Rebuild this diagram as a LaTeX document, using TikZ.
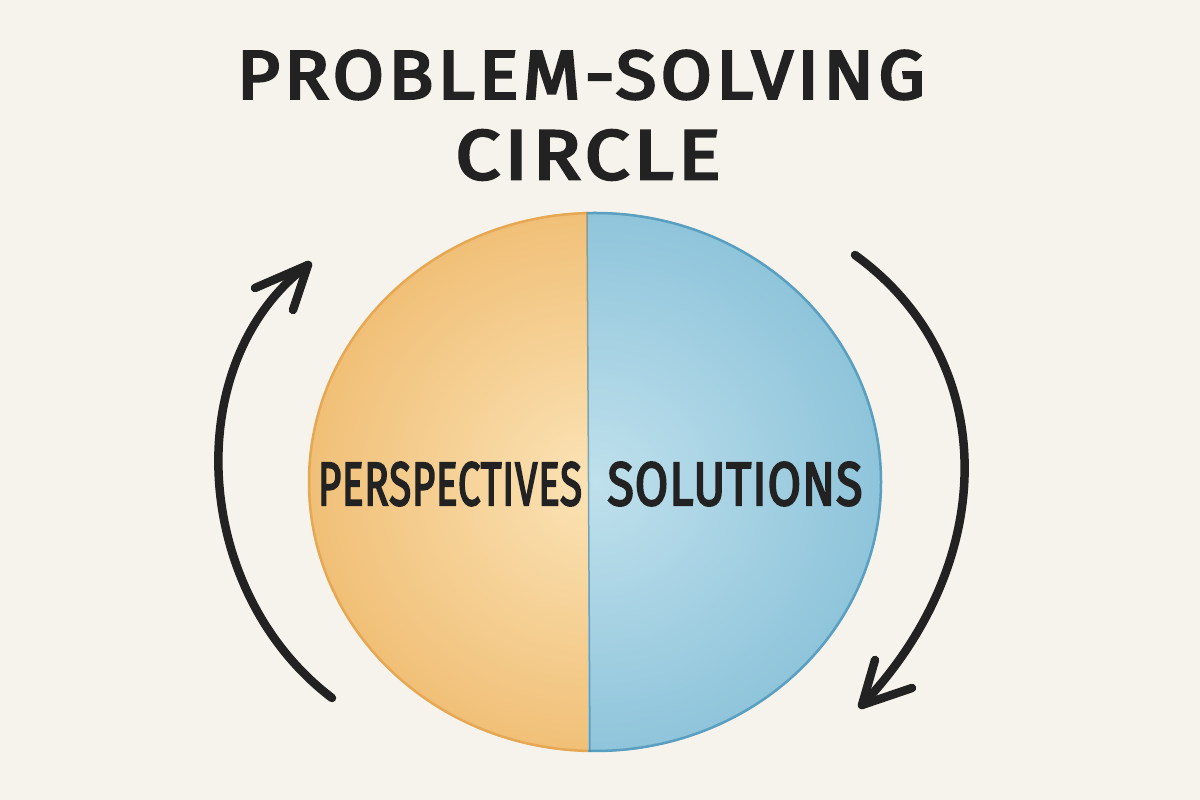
\documentclass[tikz,border=0pt]{standalone}
\usepackage{fontspec}
\usepackage{graphicx}
\newfontfamily\hand[LetterSpace=6,FakeBold=4]{Fira Sans}
\newfontfamily\handlbl[LetterSpace=2,FakeBold=3.5]{Fira Sans}
\definecolor{paper}{HTML}{F6F3EC}
\definecolor{ink}{HTML}{222222}
\definecolor{orlight}{HTML}{FBE3B6}
\definecolor{ordark}{HTML}{F0BE74}
\definecolor{oredge}{HTML}{E6A853}
\definecolor{bllight}{HTML}{BFE0EC}
\definecolor{bldark}{HTML}{8CC3DA}
\definecolor{bledge}{HTML}{5A9FC0}
\tikzset{
  arrowline/.style={draw=ink, line width=8.5pt, line cap=round, line join=round},
  label/.style={inner sep=0pt, text=ink},
}
\begin{document}
\begin{tikzpicture}[x=1pt,y=1pt]
\useasboundingbox (0,0) rectangle (1200,800);
\fill[paper] (0,0) rectangle (1200,800);
% circle halves
\coordinate (c) at (595,318);
\begin{scope}
  \clip (c) ellipse [x radius=287, y radius=270];
  \begin{scope}
    \clip (200,0) rectangle (588,800);
    \shade[inner color=orlight, outer color=ordark] (c) ellipse [x radius=300, y radius=285];
  \end{scope}
  \begin{scope}
    \clip (588,0) rectangle (1000,800);
    \shade[inner color=bllight, outer color=bldark] (c) ellipse [x radius=300, y radius=285];
  \end{scope}
\end{scope}
\begin{scope}
  \clip (200,0) rectangle (588,800);
  \draw[oredge, line width=2.5pt] (c) ellipse [x radius=286, y radius=269];
\end{scope}
\begin{scope}
  \clip (588,0) rectangle (1000,800);
  \draw[bledge, line width=2.5pt] (c) ellipse [x radius=286, y radius=269];
\end{scope}
\coordinate (dtop) at (587,588);
\coordinate (dbot) at (590,48);
\draw[bledge!80!black, line width=1.5pt, opacity=0.6] (dtop) -- (dbot);
% title
\node[label] (t1) at (581,725) {\resizebox{688pt}{48pt}{\hand PROBLEM-SOLVING}};
\node[label] (t2) at (588,645) {\resizebox{265pt}{49pt}{\hand CIRCLE}};
% labels
\node[label] (persp) at (450,316) {\resizebox{264pt}{43pt}{\handlbl PERSPECTIVES}};
\node[label] (sol) at (735,316) {\resizebox{255pt}{43pt}{\handlbl SOLUTIONS}};
% left arrow
\coordinate (la0) at (332,102);
\coordinate (la1) at (308,535);
\coordinate (lh1) at (255,512);
\coordinate (lh2) at (293,490);
\draw[arrowline] (la0) .. controls (190,210) and (180,440) .. (la1);
\draw[arrowline] (lh1) -- (la1) -- (lh2);
% right arrow
\coordinate (ra0) at (855,545);
\coordinate (ra1) at (862,95);
\coordinate (rh1) at (875,140);
\coordinate (rh2) at (912,112);
\draw[arrowline] (ra0) .. controls (1000,440) and (1000,240) .. (ra1);
\draw[arrowline] (rh1) -- (ra1) -- (rh2);
\end{tikzpicture}
\end{document}
